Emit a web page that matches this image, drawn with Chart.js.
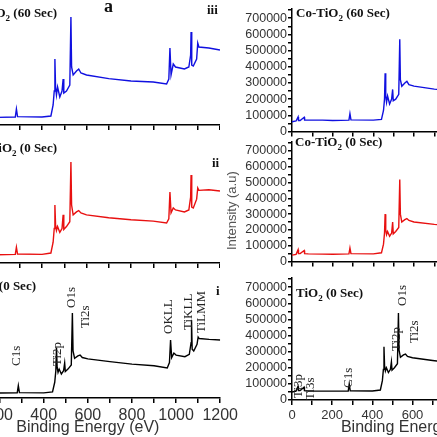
<!DOCTYPE html>
<html><head><meta charset="utf-8">
<script src="https://cdn.jsdelivr.net/npm/chart.js@4.4.0/dist/chart.umd.min.js"></script>
<style>
html,body{margin:0;padding:0;width:437px;height:437px;overflow:hidden;background:#fff;position:relative}
canvas{position:absolute}
.t{position:absolute;font-family:'Liberation Serif',serif;font-weight:bold;font-size:13px;color:#111;white-space:nowrap}
.p{position:absolute;font-family:'Liberation Serif',serif;font-size:13px;color:#222;white-space:nowrap;transform:rotate(-90deg);transform-origin:left bottom}
</style></head><body>
<canvas id="L3" width="267" height="130" style="left:-47px;top:0px"></canvas>
<canvas id="L2" width="267" height="130" style="left:-47px;top:138px"></canvas>
<canvas id="L1" width="293" height="164" style="left:-52px;top:273px"></canvas>
<canvas id="R3" width="296" height="140" style="left:240px;top:0px"></canvas>
<canvas id="R2" width="296" height="137" style="left:240px;top:133px"></canvas>
<canvas id="R1" width="296" height="168" style="left:240px;top:269px"></canvas>

<div class="t" style="right:380px;top:5px">Co-TiO<sub style="font-size:9px">2</sub> (60 Sec)</div>
<div class="t" style="right:380px;top:140px">Co-TiO<sub style="font-size:9px">2</sub> (0 Sec)</div>
<div class="t" style="right:401px;top:278px">TiO<sub style="font-size:9px">2</sub> (0 Sec)</div>
<div class="t" style="left:104px;top:-4px;font-size:18px">a</div>
<div class="t" style="left:207px;top:2px">iii</div>
<div class="t" style="left:212px;top:155px">ii</div>
<div class="t" style="left:216px;top:283px">i</div>
<div class="t" style="left:296px;top:5px">Co-TiO<sub style="font-size:9px">2</sub> (60 Sec)</div>
<div class="t" style="left:295px;top:134px">Co-TiO<sub style="font-size:9px">2</sub> (0 Sec)</div>
<div class="t" style="left:296px;top:285px">TiO<sub style="font-size:9px">2</sub> (0 Sec)</div>
<div style="position:absolute;left:224px;top:250px;transform:rotate(-90deg);transform-origin:left top;font-family:'Liberation Sans',sans-serif;font-size:13px;color:#555;white-space:nowrap">Intensity (a.u)</div>

<div class="p" style="left:24px;top:350px">C1s</div>
<div class="p" style="left:65px;top:350px">Ti2p</div>
<div class="p" style="left:79px;top:292px">O1s</div>
<div class="p" style="left:93px;top:312px">Ti2s</div>
<div class="p" style="left:176px;top:318px">OKLL</div>
<div class="p" style="left:196px;top:314px">TiKLL</div>
<div class="p" style="left:209px;top:317px">TiLMM</div>
<div class="p" style="left:306px;top:382px">Ti3p</div>
<div class="p" style="left:318px;top:384px">Ti3s</div>
<div class="p" style="left:356px;top:372px">C1s</div>
<div class="p" style="left:404px;top:335px">Ti2p</div>
<div class="p" style="left:410px;top:290px">O1s</div>
<div class="p" style="left:422px;top:327px">Ti2s</div>

<script>
const energies = [0,20,30,32,40,60,62,80,150,200,280,285,290,400,440,450,455,458,461,465,470,480,490,495,498,510,525,530,533,540,555,565,575,600,700,800,900,960,970,975,980,990,1000,1040,1060,1068,1070,1073,1080,1095,1100,1105,1150,1200];
const blueCounts = [60000,65000,90000,68000,68000,88000,70000,70000,70000,68000,70000,110000,72000,70000,75000,130000,200000,360000,220000,180000,220000,170000,200000,260000,190000,200000,230000,570000,320000,280000,300000,310000,290000,280000,262000,250000,245000,235000,260000,415000,280000,335000,320000,310000,320000,380000,495000,330000,325000,360000,440000,420000,415000,405000];
const redCounts = [40000,45000,75000,50000,50000,70000,50000,48000,47000,46000,48000,85000,50000,48000,55000,110000,180000,300000,200000,170000,190000,160000,180000,250000,175000,190000,215000,520000,300000,250000,265000,272000,260000,250000,235000,225000,218000,208000,230000,367000,260000,285000,275000,265000,275000,340000,453000,290000,285000,330000,387000,375000,378000,372000];
const blackCounts = [50000,55000,85000,58000,58000,80000,58000,56000,55000,55000,56000,100000,57000,56000,62000,120000,190000,330000,210000,180000,200000,170000,190000,237000,185000,200000,225000,540000,310000,265000,280000,285000,270000,262000,245000,230000,220000,206600,240000,376000,270000,297000,285000,275000,290000,360000,497500,320000,310000,350000,394500,385000,380000,376000];
const xTicks = [0,200,400,600,800,1000,1200];
const yTicks = [0,100000,200000,300000,400000,500000,600000,700000];
const yMinorTicks = [50000,150000,250000,350000,450000,550000,650000,750000];

function pts(arr){return energies.map((e,i)=>({x:e,y:arr[i]}));}
Chart.defaults.animation=false;
Chart.defaults.devicePixelRatio=1;
Chart.defaults.color='#333';

function make(id,data,color,opt){
  const xs={type:'linear',min:0,max:1200,
    border:{color:'#000',width:1.5},
    grid:{drawOnChartArea:false,color:'#000',tickLength:5,lineWidth:1.5},
    ticks:{stepSize:100,autoSkip:false,maxRotation:0,display:opt.xlabels,
      font:{family:"'Liberation Sans',sans-serif",size:opt.xfont},
      callback:v=>{const r=Math.round(v);return (xTicks.includes(r) && r<=opt.xlabmax)?String(r):'';}},
    title:{display:opt.xlabels,text:opt.xtitle,font:{family:"'Liberation Sans',sans-serif",size:opt.tfont},padding:{top:0,bottom:0},color:'#333'},
    afterFit:s=>{s.height=opt.xh;}};
  const ys={type:'linear',min:opt.ymin,max:opt.ymax,display:opt.ydisp,
    border:{color:'#000',width:1.5},
    grid:{drawOnChartArea:false,color:'#000',tickLength:4,lineWidth:1.5},
    afterBuildTicks:s=>{s.ticks=yTicks.concat(yMinorTicks).sort((a,b)=>a-b).map(v=>({value:v}));},
    ticks:{autoSkip:false,font:{family:"'Liberation Sans',sans-serif",size:12.5},padding:1,
      callback:v=>{const r=Math.round(v);return yTicks.includes(r)?String(r):'';}},
    afterFit:s=>{s.width=opt.ydisp?52:0;}};
  return new Chart(document.getElementById(id),{type:'line',
    data:{datasets:[{data:pts(data),borderColor:color,borderWidth:1.4,pointRadius:0,tension:0}]},
    options:{responsive:false,layout:{padding:opt.pad},
      plugins:{legend:{display:false},tooltip:{enabled:false}},
      scales:{x:xs,y:ys}}});
}
const lt={xfont:16,tfont:16,xtitle:'Binding Energy (eV)',ydisp:false,xlabmax:1200};
make('L3',blueCounts,'#1010e0',{...lt,xlabels:false,xh:5,ymin:30000,ymax:655000,pad:{top:0,left:0,right:0,bottom:0}});
make('L2',redCounts,'#e81010',{...lt,xlabels:false,xh:5,ymin:4000,ymax:642500,pad:{top:0,left:0,right:0,bottom:0}});
make('L1',blackCounts,'#000',{...lt,xlabels:true,xh:39,ymin:24700,ymax:782500,pad:{top:0,left:0,right:0,bottom:0}});
const rt={xfont:13,tfont:16,xtitle:'Binding Energy (eV)',ydisp:true,xlabmax:600,ymin:0,ymax:760000};
make('R3',blueCounts,'#1010e0',{...rt,xlabels:false,xh:5,pad:{top:6,left:0,right:0,bottom:0}});
make('R2',redCounts,'#e81010',{...rt,xlabels:false,xh:5,pad:{top:1,left:0,right:0,bottom:0}});
make('R1',blackCounts,'#000',{...rt,xlabels:true,xh:37,pad:{top:0,left:0,right:0,bottom:0}});
</script>
</body></html>
